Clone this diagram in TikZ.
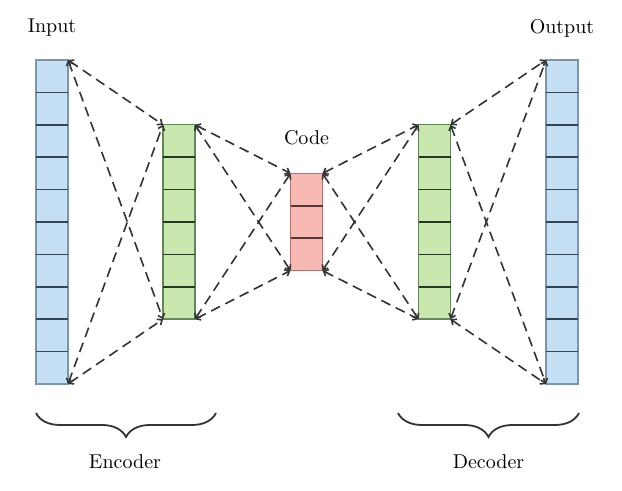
\documentclass[tikz,border=0pt]{standalone}
\usepackage{tikz}
\usetikzlibrary{arrows.meta,decorations.pathreplacing}
\definecolor{inblue}{RGB}{197,224,245}
\definecolor{inedge}{RGB}{122,150,172}
\definecolor{hidgreen}{RGB}{200,232,176}
\definecolor{hidedge}{RGB}{100,135,90}
\definecolor{codered}{RGB}{248,184,180}
\definecolor{codeedge}{RGB}{176,112,110}
\definecolor{cellline}{RGB}{52,72,84}

\begin{document}
\begin{tikzpicture}[x=0.5pt,y=-0.5pt,
  layer/.style={draw, line width=0.7pt, minimum width=16pt, inner sep=0pt, outer sep=0pt},
  link/.style={draw=black!80, line width=0.8pt, dash pattern=on 5pt off 3pt, {Straight Barb[length=2pt,width=3.5pt]}-{Straight Barb[length=2pt,width=3.5pt]}},
  divider/.style={cellline, line width=0.8pt},
  bracelabel/.style={decorate, decoration={brace, mirror, amplitude=12pt}, line width=0.9pt, black!80}]
\useasboundingbox (0,0) rectangle (622,491);
% layers
\node[layer, fill=inblue, draw=inedge, minimum height=162pt] (in) at (52,222) {};
\node[layer, fill=hidgreen, draw=hidedge, minimum height=97.2pt] (enc) at (179,222) {};
\node[layer, fill=codered, draw=codeedge, minimum height=48.6pt] (code) at (306.5,222) {};
\node[layer, fill=hidgreen, draw=hidedge, minimum height=97.2pt] (dec) at (434.5,222) {};
\node[layer, fill=inblue, draw=inedge, minimum height=162pt] (out) at (562,222) {};
% cells
\foreach \i in {1,...,9} {
  \draw[divider] ([yshift=-\i*16.2pt]in.north west) -- ([yshift=-\i*16.2pt]in.north east);
  \draw[divider] ([yshift=-\i*16.2pt]out.north west) -- ([yshift=-\i*16.2pt]out.north east);
}
\foreach \i in {1,...,5} {
  \draw[divider, draw=black!60!hidedge] ([yshift=-\i*16.2pt]enc.north west) -- ([yshift=-\i*16.2pt]enc.north east);
  \draw[divider, draw=black!60!hidedge] ([yshift=-\i*16.2pt]dec.north west) -- ([yshift=-\i*16.2pt]dec.north east);
}
\foreach \i in {1,2}
  \draw[divider, draw=black!50!codeedge] ([yshift=-\i*16.2pt]code.north west) -- ([yshift=-\i*16.2pt]code.north east);
% connections
\foreach \a/\b in {in/enc,enc/code,code/dec,dec/out} {
  \draw[link] (\a.north east) -- (\b.north west);
  \draw[link] (\a.north east) -- (\b.south west);
  \draw[link] (\a.south east) -- (\b.north west);
  \draw[link] (\a.south east) -- (\b.south west);
}
% labels
\node (inlabel) at (52,28) {Input};
\node (codelabel) at (306.5,138) {Code};
\node (outlabel) at (562,28) {Output};
% braces
\coordinate (encl) at (36,413);
\coordinate (encr) at (216,413);
\coordinate (decl) at (398,413);
\coordinate (decr) at (579,413);
\draw[bracelabel] (encl) -- (encr);
\draw[bracelabel] (decl) -- (decr);
\node (enclabel) at (125,462) {Encoder};
\node (declabel) at (488.5,462) {Decoder};
\end{tikzpicture}
\end{document}
